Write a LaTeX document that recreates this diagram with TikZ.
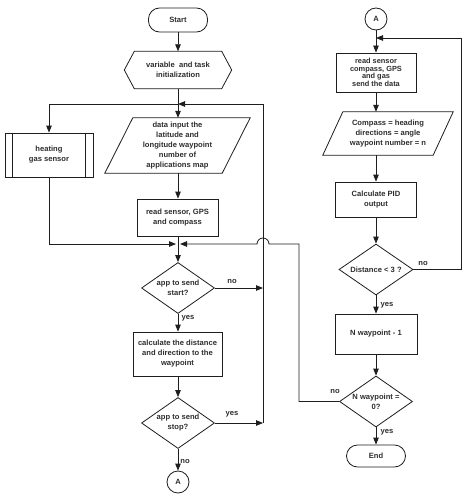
\documentclass[tikz,border=0pt]{standalone}
\usepackage{fontspec}
\setmainfont{Liberation Sans}
\usetikzlibrary{arrows.meta,shapes.geometric,calc}
\definecolor{ln}{HTML}{1E1E1E}
\definecolor{tx}{HTML}{2E2E2E}
\begin{document}
\begin{tikzpicture}[x=1pt,y=-1pt,
  every node/.style={font=\bfseries\fontsize{7.6}{10}\selectfont, text=tx, inner sep=0pt, align=center},
  box/.style={draw=ln, line width=0.8pt, rectangle, minimum width=#1},
  bare/.style={rectangle, minimum width=#1},
  term/.style={draw=ln, line width=0.8pt, rectangle, rounded corners=11pt, minimum width=59pt},
  dec/.style={draw=ln, line width=0.8pt, diamond, minimum width=73pt, minimum height=51pt},
  conn/.style={draw=ln, line width=0.8pt, circle, minimum size=22pt},
  lab/.style={font=\bfseries\fontsize{7.6}{10}\selectfont},
  arr/.style={draw=ln, line width=0.8pt, -{Triangle[length=7pt,width=5.5pt]}},
  ln/.style={draw=ln, line width=0.8pt}
]
\fill[white] (0,0) rectangle (471,503);
\useasboundingbox (0,0) rectangle (471,503);

% ---------- left column ----------
\node[term, minimum height=24pt] (start) at (178,20) {Start};
\node[bare=107pt, minimum height=37pt] (init) at (178,70) {variable\ \ and task\\initialization};
\draw[ln] (init.west) -- ([xshift=10pt]init.north west) -- ([xshift=-10pt]init.north east)
  -- (init.east) -- ([xshift=-10pt]init.south east) -- ([xshift=10pt]init.south west) -- cycle;
\coordinate (j1) at (178,104);
\node[bare=145pt, minimum height=55pt] (data) at (177.5,145.5) {data input the\\latitude and\\longitude waypoint\\number of\\applications map};
\draw[ln] ([xshift=28pt]data.north west) -- (data.north east) -- ([xshift=-28pt]data.south east) -- (data.south west) -- cycle;
\node[box=88pt, minimum height=44pt] (heat) at (49,155) {heating\\gas sensor};
\draw[ln] ([xshift=8pt]heat.north west) -- ([xshift=8pt]heat.south west);
\draw[ln] ([xshift=-8pt]heat.north east) -- ([xshift=-8pt]heat.south east);
\node[box=81pt, minimum height=37pt] (read) at (177.5,217.5) {read sensor, GPS\\and compass};
\coordinate (j2) at (178,244);
\node[dec] (dstart) at (178,288) {};
\node (tstart) at (dstart) {app to send\\start?};
\node[box=89pt, minimum height=44pt] (calc) at (177.5,354) {calculate the distance\\and direction to the\\waypoint};
\node[dec] (dstop) at (178,423) {};
\node (tstop) at (dstop) {app to send\\stop?};
\node[conn] (A1) at (178,482) {A};
\coordinate (r1) at (263,288);
\coordinate (r2) at (263,423);
\coordinate (rtop) at (263,104);

% ---------- right column ----------
\node[conn] (A2) at (376,19) {A};
\coordinate (j3) at (376,38);
\node[box=80pt, minimum height=39pt, font=\bfseries\fontsize{7.4}{7.6}\selectfont] (rd) at (376,72.5) {read sensor\\compass, GPS\\and gas\\send the data};
\node[bare=130pt, minimum height=43pt] (par2) at (388,133.5) {Compass = heading\\directions = angle\\waypoint number = n};
\draw[ln] ([xshift=20pt]par2.north west) -- (par2.north east) -- ([xshift=-20pt]par2.south east) -- (par2.south west) -- cycle;
\node[box=81pt, minimum height=35pt] (pid) at (376,199.5) {Calculate PID\\output};
\node[dec, minimum width=74pt] (dist) at (376,269.5) {};
\node (tdist) at (dist) {Distance < 3 ?};
\node[box=82pt, minimum height=40pt] (nwp) at (376,334) {N waypoint - 1};
\node[dec] (dzero) at (376,401.5) {};
\node (tzero) at (dzero) {N waypoint =\\0?};
\node[term, minimum height=22pt] (end) at (376,456) {End};
\coordinate (rr) at (461,38);
\coordinate (lz) at (299,401.5);

% ---------- connectors left ----------
\draw[arr] (start) -- (init);
\draw[arr] (init.south) -- (init.south |- data.north);
\draw[ln] (r2) -- (rtop);
\draw[arr] (rtop) -- (j1);
\draw[arr] (j1) -| (heat.north);
\draw[arr] (read.south -| j2) -- (dstart.north);
\draw[arr] (data.south -| j2) -- (read.north -| j2);
\draw[ln] (read.south -| j2) -- (j2);
\draw[arr] (heat.south) |- ([xshift=-2pt]j2);
\draw[arr] (dstart.east) -- (r1);
\draw[arr] (dstart.south) -- (calc.north -| dstart.south);
\draw[arr] (calc.south -| dstop.north) -- (dstop.north);
\draw[arr] (dstop.east) -- (r2);
\draw[arr] (dstop.south) -- (A1.north);
\node[lab] at (232,281) {no};
\node[lab] at (188,318) {yes};
\node[lab] at (232,414) {yes};
\node[lab] at (185,461) {no};

% ---------- connectors right ----------
\draw[arr] (A2.south) -- (rd.north);
\draw[arr] (dist.east) -- (dist.east -| rr) -- (rr) -- (j3);
\draw[arr] (rd.south) -- (rd.south |- par2.north);
\draw[arr] (rd.south |- par2.south) -- (pid.north);
\draw[arr] (pid.south) -- (dist.north);
\draw[arr] (dist.south) -- (nwp.north);
\draw[arr] (nwp.south) -- (dzero.north);
\draw[arr] (dzero.south) -- (end.north);
\draw[arr] (dzero.west) -- (lz) -- (lz |- j2) -- (269,244) arc[start angle=0,end angle=180,radius=6pt] -- ([xshift=2pt]j2);
\node[lab] at (423,263) {no};
\node[lab] at (387,305) {yes};
\node[lab] at (335,391) {no};
\node[lab] at (387,432) {yes};
\end{tikzpicture}
\end{document}
